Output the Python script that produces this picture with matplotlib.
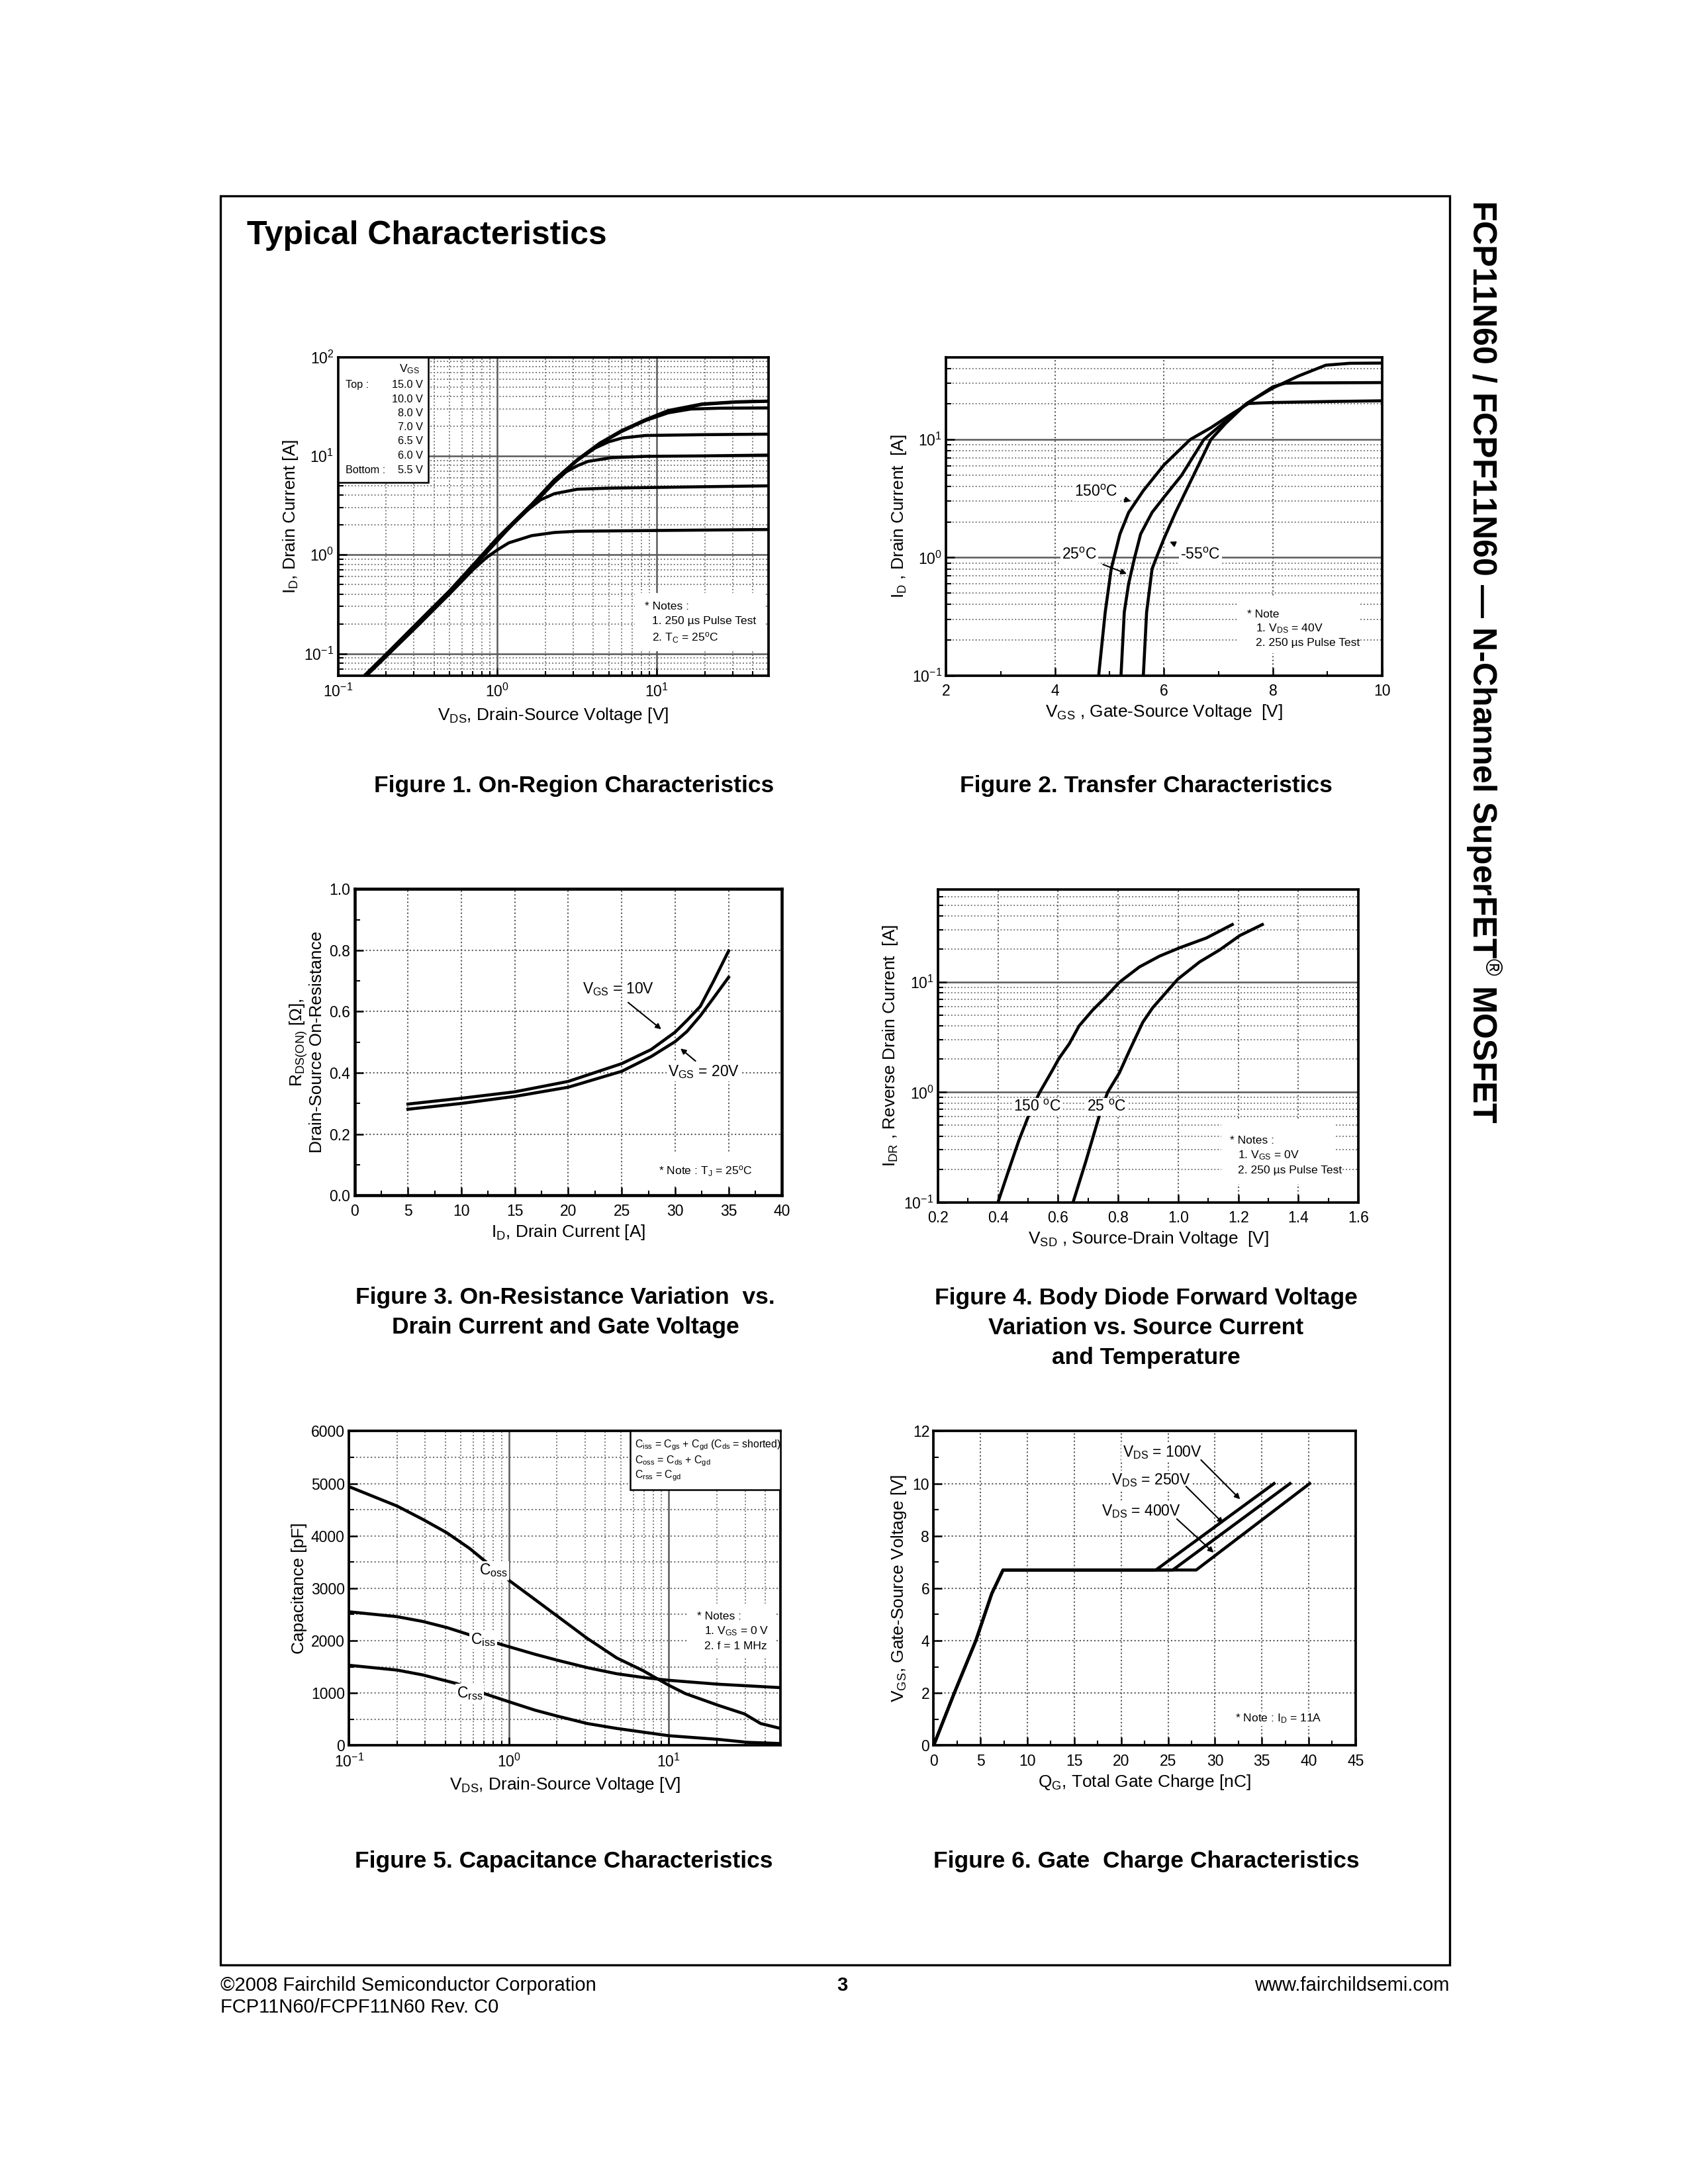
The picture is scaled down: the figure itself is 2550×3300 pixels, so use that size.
import matplotlib
matplotlib.use('Agg')
import matplotlib.pyplot as plt
from matplotlib.patches import Rectangle
from matplotlib.ticker import MultipleLocator, LogLocator, NullFormatter, FormatStrFormatter

plt.rcParams['font.family'] = ['Liberation Sans', 'DejaVu Sans']
plt.rcParams['mathtext.fontset'] = 'custom'
plt.rcParams['mathtext.rm'] = 'Liberation Sans'
plt.rcParams['mathtext.it'] = 'Liberation Sans:italic'
plt.rcParams['mathtext.bf'] = 'Liberation Sans:bold'

# ---- Figure 1 : on-region characteristics (VDS [V], ID [A]) ----
vgs_labels = ['15.0 V', '10.0 V', '8.0 V', '7.0 V', '6.5 V', '6.0 V', '5.5 V']
vds_15 = [0.145, 0.2, 0.32, 0.5, 0.7, 1.0, 1.64, 2.28, 3.17, 4.4, 6.0, 8.5, 11.8, 19.3, 31.5, 50]
id_15 = [0.059, 0.098, 0.21, 0.43, 0.78, 1.48, 3.24, 5.73, 9.15, 13.5, 18.0, 23.3, 28.8, 33.6, 35.3, 35.9]
vds_10 = [0.145, 0.2, 0.32, 0.5, 0.7, 1.0, 1.64, 2.28, 3.17, 4.4, 6.0, 8.5, 11.8, 19.3, 31.5, 50]
id_10 = [0.057, 0.095, 0.205, 0.42, 0.76, 1.45, 3.18, 5.65, 9.05, 13.3, 17.6, 22.9, 28.2, 33.2, 35.0, 35.7]
vds_8 = [0.145, 0.2, 0.32, 0.5, 0.7, 1.0, 1.64, 2.28, 3.17, 4.4, 6.0, 8.5, 11.8, 16.3, 25, 50]
id_8 = [0.058, 0.097, 0.207, 0.425, 0.77, 1.46, 3.2, 5.68, 9.1, 13.4, 17.8, 22.8, 27.3, 29.8, 30.4, 30.6]
vds_7 = [0.145, 0.2, 0.32, 0.5, 0.7, 1.0, 1.64, 2.28, 3.17, 4.1, 5.0, 6.1, 8.5, 19.3, 50]
id_7 = [0.058, 0.096, 0.205, 0.42, 0.76, 1.44, 3.15, 5.6, 9.0, 12.0, 13.9, 15.2, 16.1, 16.4, 16.6]
vds_65 = [0.145, 0.2, 0.32, 0.5, 0.7, 1.0, 1.64, 2.28, 2.7, 3.2, 3.7, 5.2, 8.5, 19.3, 50]
id_65 = [0.058, 0.096, 0.205, 0.42, 0.76, 1.43, 3.1, 5.4, 6.9, 8.0, 8.8, 9.6, 9.9, 10.0, 10.2]
vds_6 = [0.145, 0.2, 0.32, 0.5, 0.7, 1.0, 1.4, 1.87, 2.28, 3.17, 5.0, 8.5, 20, 50]
id_6 = [0.057, 0.095, 0.2, 0.41, 0.74, 1.38, 2.5, 3.6, 4.15, 4.6, 4.72, 4.78, 4.88, 4.98]
vds_55 = [0.145, 0.2, 0.32, 0.5, 0.7, 0.85, 1.0, 1.18, 1.64, 2.28, 3.17, 10, 50]
id_55 = [0.056, 0.093, 0.195, 0.4, 0.7, 0.93, 1.12, 1.32, 1.56, 1.68, 1.73, 1.76, 1.80]

# ---- Figure 2 : transfer characteristics (VGS [V], ID [A]) ----
vgs_150 = [4.80, 4.92, 5.03, 5.19, 5.35, 5.62, 6.0, 6.48, 6.86, 7.2, 7.55, 7.75, 8.0, 9.0, 10.0]
id_150 = [0.1, 0.344, 0.80, 1.58, 2.41, 3.69, 6.1, 10.0, 12.6, 16.0, 20.2, 20.4, 20.6, 21.0, 21.3]
vgs_25 = [5.21, 5.27, 5.35, 5.46, 5.57, 5.78, 6.0, 6.32, 6.73, 7.08, 7.51, 8.0, 8.22, 8.5, 10.0]
id_25 = [0.1, 0.344, 0.6, 1.0, 1.58, 2.41, 3.25, 4.96, 10.0, 13.7, 20.1, 28.0, 30.0, 30.2, 30.4]
vgs_m55 = [5.62, 5.68, 5.78, 5.86, 6.0, 6.21, 6.54, 6.86, 7.13, 7.51, 8.0, 8.47, 8.97, 9.41, 10.0]
id_m55 = [0.1, 0.344, 0.80, 1.0, 1.45, 2.41, 4.96, 10.0, 13.7, 20.1, 27.4, 34.6, 42.7, 44.3, 44.5]

# ---- Figure 3 : on-resistance (ID [A], RDS(on) [ohm]) ----
id_r = [5, 10, 15, 20, 25, 27.75, 30, 31.1, 32.35, 33.6, 35]
rds_10v = [0.298, 0.317, 0.338, 0.372, 0.430, 0.476, 0.533, 0.571, 0.617, 0.70, 0.798]
rds_20v = [0.281, 0.300, 0.323, 0.353, 0.405, 0.453, 0.502, 0.535, 0.586, 0.645, 0.712]

# ---- Figure 4 : body diode (VSD [V], IDR [A]) ----
vsd_150 = [0.40, 0.437, 0.47, 0.503, 0.539, 0.581, 0.603, 0.637, 0.670, 0.715, 0.759, 0.804, 0.871, 0.938, 1.005, 1.094, 1.18]
idr_150 = [0.1, 0.20, 0.367, 0.623, 1.0, 1.58, 2.03, 2.75, 4.01, 5.58, 7.36, 10.0, 13.8, 17.3, 20.6, 25.3, 33.5]
vsd_25 = [0.65, 0.692, 0.737, 0.765, 0.804, 0.837, 0.882, 0.915, 0.971, 0.999, 1.071, 1.138, 1.205, 1.28]
idr_25 = [0.1, 0.233, 0.607, 1.0, 1.50, 2.37, 4.33, 5.87, 8.77, 10.7, 15.3, 19.7, 26.6, 33.5]

# ---- Figure 5 : capacitance (VDS [V], C [pF]) ----
v_coss = [0.1, 0.2, 0.29, 0.41, 0.57, 0.69, 1.0, 1.46, 2.03, 3.1, 4.73, 6.89, 10, 12.7, 20.4, 29.7, 37.6, 50]
coss = [4942, 4571, 4316, 4060, 3759, 3550, 3155, 2784, 2459, 2042, 1671, 1430, 1150, 990, 766, 603, 418, 325]
v_ciss = [0.1, 0.2, 0.29, 0.41, 0.57, 0.83, 1.46, 2.03, 3.1, 4.73, 6.89, 10, 20.4, 50]
ciss = [2552, 2459, 2367, 2251, 2111, 1958, 1740, 1624, 1485, 1369, 1299, 1244, 1169, 1104]
v_crss = [0.1, 0.2, 0.29, 0.47, 0.69, 1.0, 1.46, 2.03, 3.1, 4.73, 6.89, 10, 20.4, 31, 50]
crss = [1531, 1439, 1346, 1183, 998, 835, 673, 557, 418, 325, 255, 186, 116, 60, 37]

# ---- Figure 6 : gate charge (QG [nC], VGS [V]) ----
vgs_gc = [0, 2, 4, 5.8, 6.7, 6.7, 10]
qg_100 = [0, 2.2, 4.5, 6.2, 7.4, 23.7, 36.3]
qg_250 = [0, 2.2, 4.5, 6.2, 7.4, 25.5, 38.0]
qg_400 = [0, 2.2, 4.5, 6.2, 7.4, 28.0, 40.1]

TICK = 5.5
LAB = 6.3
NOTE = 4.2
LW = 1.1


def style(ax, spine_lw=0.9):
    for s in ax.spines.values():
        s.set_linewidth(spine_lw)
    ax.tick_params(which='both', direction='in', labelsize=TICK, top=False, right=False)
    ax.tick_params(axis='x', which='both', pad=3)
    ax.tick_params(axis='y', which='both', pad=1.5)
    ax.tick_params(which='major', length=3, width=0.6)
    ax.tick_params(which='minor', length=1.8, width=0.5)


def note_box(ax, x0, y0, w, h):
    ax.add_patch(Rectangle((x0, y0), w, h, transform=ax.transAxes, facecolor='white',
                           edgecolor='none', zorder=3))


def loggrid(ax, axis):
    ax.grid(True, which='major', axis=axis, color='0.35', lw=0.6, ls='-')
    ax.grid(True, which='minor', axis=axis, color='0.45', lw=0.45, ls=':')


fig = plt.figure(figsize=(8.5, 11), dpi=300)

# page frame and text
fig.add_artist(Rectangle((0.1307, 0.1004), 0.728, 0.810, transform=fig.transFigure,
                         facecolor='none', edgecolor='black', lw=0.8))
fig.text(0.1462, 0.892, 'Typical Characteristics', fontsize=12, fontweight='bold',
         ha='left', va='center')
fig.text(0.879, 0.9085, 'FCP11N60 / FCPF11N60 \u2014 N-Channel SuperFET$^{\\circledR}$ MOSFET',
         fontsize=12, fontweight='bold', rotation=-90, ha='center', va='top')
fig.text(0.1307, 0.0909, '\u00a92008 Fairchild Semiconductor Corporation', fontsize=7,
         ha='left', va='center')
fig.text(0.1307, 0.0808, 'FCP11N60/FCPF11N60 Rev. C0', fontsize=7, ha='left', va='center')
fig.text(0.499, 0.0909, '3', fontsize=7, fontweight='bold', ha='center', va='center')
fig.text(0.8587, 0.0909, 'www.fairchildsemi.com', fontsize=7, ha='right', va='center')

cap = dict(fontsize=8.5, fontweight='bold', ha='center', va='center', linespacing=1.45)
fig.text(0.340, 0.640, 'Figure 1. On-Region Characteristics', **cap)
fig.text(0.679, 0.640, 'Figure 2. Transfer Characteristics', **cap)
fig.text(0.335, 0.399, 'Figure 3. On-Resistance Variation  vs.\nDrain Current and Gate Voltage', **cap)
fig.text(0.679, 0.392, 'Figure 4. Body Diode Forward Voltage\nVariation vs. Source Current\nand Temperature', **cap)
fig.text(0.334, 0.1477, 'Figure 5. Capacitance Characteristics', **cap)
fig.text(0.679, 0.1477, 'Figure 6. Gate  Charge Characteristics', **cap)

arrow = dict(arrowstyle='-|>', lw=0.5, color='black', mutation_scale=4)
wbox = dict(facecolor='white', edgecolor='none', pad=0.5)

# ---------- Figure 1 ----------
ax1 = fig.add_axes([0.2002, 0.6907, 0.2549, 0.1458])
for xs, ys in [(vds_15, id_15), (vds_10, id_10), (vds_8, id_8), (vds_7, id_7),
               (vds_65, id_65), (vds_6, id_6), (vds_55, id_55)]:
    ax1.plot(xs, ys, color='black', lw=LW, zorder=2)
ax1.set_xscale('log')
ax1.set_yscale('log')
ax1.set_xlim(0.1, 50)
ax1.set_ylim(0.06, 100)
ax1.xaxis.set_major_locator(LogLocator(base=10, numticks=10))
ax1.xaxis.set_minor_locator(LogLocator(base=10, subs=range(2, 10), numticks=20))
ax1.yaxis.set_minor_locator(LogLocator(base=10, subs=range(2, 10), numticks=20))
ax1.xaxis.set_minor_formatter(NullFormatter())
ax1.yaxis.set_minor_formatter(NullFormatter())
loggrid(ax1, 'both')
style(ax1)
ax1.set_xlabel(r'V$_{\mathrm{DS}}$, Drain-Source Voltage [V]', fontsize=LAB, labelpad=2)
ax1.set_ylabel(r'I$_{\mathrm{D}}$, Drain Current [A]', fontsize=LAB, labelpad=1.5)
ax1.add_patch(Rectangle((0, 0.607), 0.21, 0.393, transform=ax1.transAxes, facecolor='white',
                        edgecolor='black', lw=0.6, zorder=3))
ax1.text(0.19, 0.962, r'V$_{\mathrm{GS}}$', transform=ax1.transAxes, fontsize=NOTE,
         ha='right', va='center', zorder=4)
leg_y = [0.912, 0.868, 0.824, 0.780, 0.736, 0.691, 0.644]
for lab, yy in zip(vgs_labels, leg_y):
    ax1.text(0.197, yy, lab, transform=ax1.transAxes, fontsize=NOTE - 0.3, ha='right',
             va='center', zorder=4)
ax1.text(0.018, leg_y[0], 'Top :', transform=ax1.transAxes, fontsize=NOTE - 0.3, va='center', zorder=4)
ax1.text(0.018, leg_y[-1], 'Bottom :', transform=ax1.transAxes, fontsize=NOTE - 0.3, va='center', zorder=4)
note_box(ax1, 0.69, 0.076, 0.30, 0.183)
ax1.text(0.713, 0.216, '* Notes :', transform=ax1.transAxes, fontsize=NOTE, va='center', zorder=4)
ax1.text(0.73, 0.171, '1. 250 \u00b5s Pulse Test', transform=ax1.transAxes, fontsize=NOTE, va='center', zorder=4)
ax1.text(0.73, 0.119, r'2. T$_{\mathrm{C}}$ = 25$^{\mathrm{o}}$C', transform=ax1.transAxes,
         fontsize=NOTE, va='center', zorder=4)

# ---------- Figure 2 ----------
ax2 = fig.add_axes([0.5605, 0.6907, 0.2582, 0.1458])
ax2.plot(vgs_150, id_150, color='black', lw=LW, zorder=2)
ax2.plot(vgs_25, id_25, color='black', lw=LW, zorder=2)
ax2.plot(vgs_m55, id_m55, color='black', lw=LW, zorder=2)
ax2.set_yscale('log')
ax2.set_xlim(2, 10)
ax2.set_ylim(0.1, 50)
ax2.xaxis.set_major_locator(MultipleLocator(2))
ax2.xaxis.set_minor_locator(MultipleLocator(1))
ax2.yaxis.set_minor_locator(LogLocator(base=10, subs=range(2, 10), numticks=20))
ax2.yaxis.set_minor_formatter(NullFormatter())
loggrid(ax2, 'y')
ax2.grid(True, which='major', axis='x', color='0.35', lw=0.5, ls=':')
style(ax2)
ax2.set_xlabel(r'V$_{\mathrm{GS}}$ , Gate-Source Voltage  [V]', fontsize=LAB, labelpad=1.5)
ax2.set_ylabel(r'I$_{\mathrm{D}}$ , Drain Current  [A]', fontsize=LAB, labelpad=1.5)
ax2.annotate('150$^{\\mathrm{o}}$C', xy=(5.49, 2.92), xytext=(4.75, 3.6), fontsize=TICK,
             ha='center', va='center', bbox=wbox, arrowprops=arrow)
ax2.annotate('25$^{\\mathrm{o}}$C', xy=(5.41, 0.70), xytext=(4.44, 1.05), fontsize=TICK,
             ha='center', va='center', bbox=wbox, arrowprops=arrow)
ax2.annotate('-55$^{\\mathrm{o}}$C', xy=(6.01, 1.42), xytext=(6.67, 1.05), fontsize=TICK,
             ha='center', va='center', bbox=wbox, arrowprops=arrow)
note_box(ax2, 0.67, 0.07, 0.28, 0.18)
ax2.text(0.69, 0.192, '* Note', transform=ax2.transAxes, fontsize=NOTE, va='center', zorder=4)
ax2.text(0.71, 0.147, r'1. V$_{\mathrm{DS}}$ = 40V', transform=ax2.transAxes, fontsize=NOTE,
         va='center', zorder=4)
ax2.text(0.71, 0.102, '2. 250 \u00b5s Pulse Test', transform=ax2.transAxes, fontsize=NOTE,
         va='center', zorder=4)

# ---------- Figure 3 ----------
ax3 = fig.add_axes([0.2100, 0.4527, 0.2533, 0.1402])
ax3.plot(id_r, rds_10v, color='black', lw=LW, zorder=2)
ax3.plot(id_r, rds_20v, color='black', lw=LW, zorder=2)
ax3.set_xlim(0, 40)
ax3.set_ylim(0, 1.0)
ax3.xaxis.set_major_locator(MultipleLocator(5))
ax3.xaxis.set_minor_locator(MultipleLocator(2.5))
ax3.yaxis.set_major_locator(MultipleLocator(0.2))
ax3.yaxis.set_minor_locator(MultipleLocator(0.1))
ax3.yaxis.set_major_formatter(FormatStrFormatter('%.1f'))
ax3.grid(True, which='major', color='0.35', lw=0.5, ls=':')
style(ax3, 1.1)
ax3.set_xlabel(r'I$_{\mathrm{D}}$, Drain Current [A]', fontsize=LAB, labelpad=1.5)
ax3.set_ylabel('R$_{\\mathrm{DS(ON)}}$ [\u03a9],\nDrain-Source On-Resistance', fontsize=LAB,
               labelpad=1.5, linespacing=1.0)
ax3.text(24.7, 0.674, r'V$_{\mathrm{GS}}$ = 10V', fontsize=TICK, ha='center', va='center')
ax3.annotate('', xy=(29.1, 0.531), xytext=(25.2, 0.641), arrowprops=arrow)
ax3.text(32.65, 0.403, r'V$_{\mathrm{GS}}$ = 20V', fontsize=TICK, ha='center', va='center', bbox=wbox)
ax3.annotate('', xy=(30.1, 0.491), xytext=(32.3, 0.427), arrowprops=arrow)
note_box(ax3, 0.73, 0.03, 0.25, 0.11)
ax3.text(0.93, 0.079, r'* Note : T$_{\mathrm{J}}$ = 25$^{\mathrm{o}}$C', transform=ax3.transAxes,
         fontsize=NOTE, ha='right', va='center', zorder=4)

# ---------- Figure 4 ----------
ax4 = fig.add_axes([0.5556, 0.4495, 0.2492, 0.1433])
ax4.plot(vsd_150, idr_150, color='black', lw=LW, zorder=2)
ax4.plot(vsd_25, idr_25, color='black', lw=LW, zorder=2)
ax4.set_yscale('log')
ax4.set_xlim(0.2, 1.6)
ax4.set_ylim(0.1, 70)
ax4.xaxis.set_major_locator(MultipleLocator(0.2))
ax4.xaxis.set_minor_locator(MultipleLocator(0.1))
ax4.xaxis.set_major_formatter(FormatStrFormatter('%.1f'))
ax4.yaxis.set_minor_locator(LogLocator(base=10, subs=range(2, 10), numticks=20))
ax4.yaxis.set_minor_formatter(NullFormatter())
loggrid(ax4, 'y')
ax4.grid(True, which='major', axis='x', color='0.35', lw=0.5, ls=':')
style(ax4)
ax4.set_xlabel(r'V$_{\mathrm{SD}}$ , Source-Drain Voltage  [V]', fontsize=LAB, labelpad=1.5)
ax4.set_ylabel(r'I$_{\mathrm{DR}}$ , Reverse Drain Current  [A]', fontsize=LAB, labelpad=1.5)
ax4.text(0.531, 0.74, '150 $^{\\mathrm{o}}$C', fontsize=TICK, ha='center', va='center', bbox=wbox)
ax4.text(0.762, 0.74, '25 $^{\\mathrm{o}}$C', fontsize=TICK, ha='center', va='center', bbox=wbox)
note_box(ax4, 0.674, 0.059, 0.27, 0.203)
ax4.text(0.694, 0.197, '* Notes :', transform=ax4.transAxes, fontsize=NOTE, va='center', zorder=4)
ax4.text(0.714, 0.151, r'1. V$_{\mathrm{GS}}$ = 0V', transform=ax4.transAxes, fontsize=NOTE,
         va='center', zorder=4)
ax4.text(0.714, 0.101, '2. 250 \u00b5s Pulse Test', transform=ax4.transAxes, fontsize=NOTE,
         va='center', zorder=4)

# ---------- Figure 5 ----------
ax5 = fig.add_axes([0.2067, 0.2008, 0.2557, 0.1439])
ax5.plot(v_coss, coss, color='black', lw=LW, zorder=2)
ax5.plot(v_ciss, ciss, color='black', lw=LW, zorder=2)
ax5.plot(v_crss, crss, color='black', lw=LW, zorder=2)
ax5.set_xscale('log')
ax5.set_xlim(0.1, 50)
ax5.set_ylim(0, 6000)
ax5.xaxis.set_major_locator(LogLocator(base=10, numticks=10))
ax5.xaxis.set_minor_locator(LogLocator(base=10, subs=range(2, 10), numticks=20))
ax5.xaxis.set_minor_formatter(NullFormatter())
ax5.yaxis.set_major_locator(MultipleLocator(1000))
ax5.yaxis.set_minor_locator(MultipleLocator(500))
loggrid(ax5, 'x')
ax5.grid(True, which='both', axis='y', color='0.45', lw=0.5, ls=':')
style(ax5)
ax5.set_xlabel(r'V$_{\mathrm{DS}}$, Drain-Source Voltage [V]', fontsize=LAB, labelpad=2)
ax5.set_ylabel('Capacitance [pF]', fontsize=LAB, labelpad=1.5)
ax5.text(0.80, 3340, r'C$_{\mathrm{oss}}$', fontsize=TICK, ha='center', va='center', bbox=wbox, zorder=3)
ax5.text(0.69, 2020, r'C$_{\mathrm{iss}}$', fontsize=TICK, ha='center', va='center', bbox=wbox, zorder=3)
ax5.text(0.57, 1000, r'C$_{\mathrm{rss}}$', fontsize=TICK, ha='center', va='center', bbox=wbox, zorder=3)
ax5.add_patch(Rectangle((0.652, 0.814), 0.348, 0.186, transform=ax5.transAxes, facecolor='white',
                        edgecolor='black', lw=0.6, zorder=3))
ax5.text(0.662, 0.955, r'C$_{\mathrm{iss}}$ = C$_{\mathrm{gs}}$ + C$_{\mathrm{gd}}$ (C$_{\mathrm{ds}}$ = shorted)',
         transform=ax5.transAxes, fontsize=NOTE - 0.4, va='center', zorder=4)
ax5.text(0.662, 0.905, r'C$_{\mathrm{oss}}$ = C$_{\mathrm{ds}}$ + C$_{\mathrm{gd}}$',
         transform=ax5.transAxes, fontsize=NOTE - 0.4, va='center', zorder=4)
ax5.text(0.662, 0.858, r'C$_{\mathrm{rss}}$ = C$_{\mathrm{gd}}$',
         transform=ax5.transAxes, fontsize=NOTE - 0.4, va='center', zorder=4)
note_box(ax5, 0.785, 0.278, 0.205, 0.174)
ax5.text(0.806, 0.41, '* Notes :', transform=ax5.transAxes, fontsize=NOTE, va='center', zorder=4)
ax5.text(0.824, 0.363, r'1. V$_{\mathrm{GS}}$ = 0 V', transform=ax5.transAxes, fontsize=NOTE,
         va='center', zorder=4)
ax5.text(0.824, 0.316, '2. f = 1 MHz', transform=ax5.transAxes, fontsize=NOTE, va='center', zorder=4)

# ---------- Figure 6 ----------
ax6 = fig.add_axes([0.5531, 0.2008, 0.2500, 0.1439])
ax6.plot(qg_100, vgs_gc, color='black', lw=LW, zorder=2)
ax6.plot(qg_250, vgs_gc, color='black', lw=LW, zorder=2)
ax6.plot(qg_400, vgs_gc, color='black', lw=LW, zorder=2)
ax6.set_xlim(0, 45)
ax6.set_ylim(0, 12)
ax6.xaxis.set_major_locator(MultipleLocator(5))
ax6.xaxis.set_minor_locator(MultipleLocator(2.5))
ax6.yaxis.set_major_locator(MultipleLocator(2))
ax6.yaxis.set_minor_locator(MultipleLocator(1))
ax6.grid(True, which='major', color='0.35', lw=0.5, ls=':')
style(ax6)
ax6.set_xlabel(r'Q$_{\mathrm{G}}$, Total Gate Charge [nC]', fontsize=LAB, labelpad=1.5)
ax6.set_ylabel(r'V$_{\mathrm{GS}}$, Gate-Source Voltage [V]', fontsize=LAB, labelpad=1.5)
ax6.text(24.4, 11.19, r'V$_{\mathrm{DS}}$ = 100V', fontsize=TICK, ha='center', va='center', bbox=wbox)
ax6.text(23.2, 10.13, r'V$_{\mathrm{DS}}$ = 250V', fontsize=TICK, ha='center', va='center', bbox=wbox)
ax6.text(22.1, 8.93, r'V$_{\mathrm{DS}}$ = 400V', fontsize=TICK, ha='center', va='center', bbox=wbox)
for (x0, y0), (x1, y1) in [((28.1, 11.05), (33.1, 9.25)), ((26.5, 10.04), (31.3, 8.33)),
                           ((25.5, 8.79), (30.3, 7.22))]:
    ax6.annotate('', xy=(x1, y1), xytext=(x0, y0), arrowprops=arrow)
ax6.text(36.8, 1.02, r'* Note : I$_{\mathrm{D}}$ = 11A', fontsize=NOTE, ha='center', va='center', bbox=wbox)

fig.savefig('out.png', dpi=300, facecolor='white')
